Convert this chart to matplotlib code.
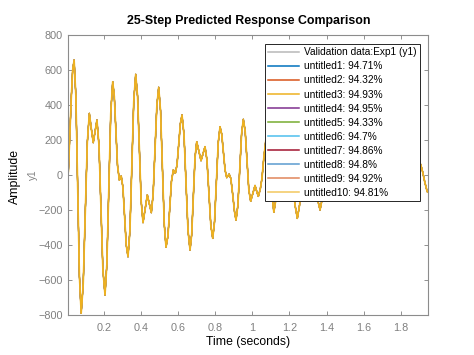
import matplotlib
matplotlib.use('Agg')
from matplotlib import pyplot as plt
import numpy as np

plt.rcParams['font.family'] = ['Liberation Sans', 'DejaVu Sans']

# samples (seconds, amplitude)
time_s = [0.008, 0.016, 0.024, 0.031, 0.039, 0.0485, 0.058, 0.0675, 0.077, 0.088,
          0.099, 0.110, 0.121, 0.131, 0.142, 0.152, 0.162, 0.173, 0.1835, 0.194,
          0.2055, 0.2155, 0.226, 0.2365, 0.247, 0.2555, 0.2645, 0.273, 0.283, 0.293,
          0.302, 0.311, 0.320, 0.3295, 0.340, 0.350, 0.3605, 0.371, 0.381, 0.391,
          0.4005, 0.4105, 0.422, 0.4337, 0.4445, 0.4553, 0.465, 0.475, 0.485, 0.495,
          0.505, 0.515, 0.525, 0.5345, 0.545, 0.5545, 0.564, 0.574, 0.585, 0.594,
          0.603, 0.612, 0.6208, 0.6315, 0.6425, 0.653, 0.664, 0.673, 0.682, 0.691,
          0.700, 0.7115, 0.7233, 0.734, 0.7449, 0.7553, 0.7657, 0.776, 0.7864, 0.796,
          0.806, 0.816, 0.8258, 0.835, 0.844, 0.853, 0.862, 0.875, 0.884, 0.894,
          0.904, 0.912, 0.922, 0.932, 0.942, 0.9515, 0.9615, 0.9715, 0.981, 0.991,
          1.003, 1.0146, 1.024, 1.0324, 1.043, 1.052, 1.062, 1.075, 1.086, 1.097,
          1.107, 1.116, 1.127, 1.142, 1.160, 1.180, 1.198, 1.214, 1.230, 1.2427,
          1.255, 1.270, 1.287, 1.305, 1.322, 1.338, 1.352, 1.3652, 1.378, 1.395,
          1.412, 1.43, 1.45, 1.47, 1.49, 1.51, 1.53, 1.55, 1.57, 1.59,
          1.61, 1.63, 1.65, 1.67, 1.69, 1.71, 1.73, 1.75, 1.77, 1.79,
          1.81, 1.83, 1.85, 1.865, 1.88, 1.895, 1.909, 1.918, 1.93, 1.943,
          1.95]
amplitude = [20, 230, 450, 600, 657, 446, -66, -579, -790, -623,
             -219, 185, 352, 270, 185, 250, 314, 168, -186, -540,
             -686, -508, -76, 355, 533, 451, 252, 53, -29, -6,
             -70, -236, -400, -467, -315, 54, 423, 575, 451, 150,
             -148, -272, -193, -114, -165, -215, -110, 143, 396, 501,
             368, 44, -280, -413, -348, -192, -35, 29, 10, 60,
             176, 294, 343, 230, -43, -316, -429, -339, -120, 100,
             190, 136, 82, 122, 162, 85, -100, -286, -362, -269,
             -43, 183, 276, 233, 130, 28, -15, 5, -20, -110,
             -210, -258, -174, 30, 234, 318, 250, 83, -84, -150,
             -105, -60, -95, -122, -80, -19, 100, 220, 220, 60,
             -120, -213, -140, 60, 270, 350, 240, 20, -170, -248,
             -170, 30, 230, 290, 190, -10, -140, -200, -130, 40,
             200, 250, 130, -40, -90, 0, 150, 200, 90, -60,
             -100, -10, 110, 150, 60, -50, -80, 0, 100, 130,
             60, -30, -60, -20, 60, 90, 57, 20, -40, -95,
             -100]

model_names = ['untitled1', 'untitled2', 'untitled3', 'untitled4', 'untitled5',
               'untitled6', 'untitled7', 'untitled8', 'untitled9', 'untitled10']
fit_pct = ['94.71', '94.32', '94.93', '94.95', '94.33',
           '94.7', '94.86', '94.8', '94.92', '94.81']

model_colors = ['#0072BD', '#D95319', '#EDB120', '#7E2F8E', '#77AC30',
                '#4DBEEE', '#A2142F', '#5b9bcf', '#e0855a', '#f2c75e']

gray = '#808080'

fig = plt.figure(figsize=(4.74, 3.55), dpi=100)
ax = fig.add_axes([68.3 / 474, 1 - 315 / 355, 360 / 474, 280 / 355])

ax.plot(time_s, amplitude, color='#b8b8b8', lw=0.8, label='Validation data:Exp1 (y1)')
for name, fit, c in zip(model_names, fit_pct, model_colors):
    ax.plot(time_s, amplitude, color=c, lw=0.8, label=f'{name}: {fit}%')
# yellow trace on top, like the original where the last fit hides the others
ax.plot(time_s, amplitude, color='#EDB120', lw=1.2)

ax.set_xlim(0.0075, 1.949)
ax.set_ylim(-800, 800)
ax.set_xticks(np.arange(0.2, 1.81, 0.2))
ax.set_xticklabels(['0.2', '0.4', '0.6', '0.8', '1', '1.2', '1.4', '1.6', '1.8'])
ax.set_yticks(np.arange(-800, 801, 200))

ax.tick_params(direction='in', length=3, width=0.6, top=True, right=True,
               color=gray, labelcolor=gray, labelsize=7.8)
ax.tick_params(axis='x', pad=6)
ax.tick_params(axis='y', pad=4)
for sp in ax.spines.values():
    sp.set_color('#8c8c8c')
    sp.set_linewidth(0.8)

ax.set_title('25-Step Predicted Response Comparison', fontsize=8.9,
             fontweight='bold', pad=8)
ax.set_xlabel('Time (seconds)', fontsize=8.8, labelpad=2)
fig.text(15 / 474, 1 - 177 / 355, 'Amplitude', rotation=90, fontsize=8.8,
         ha='center', va='center')
fig.text(33 / 474, 1 - 175 / 355, 'y1', rotation=90, fontsize=7.2, color=gray,
         ha='center', va='center')

leg = ax.legend(loc='upper right', bbox_to_anchor=(0.9756, 0.9668), borderaxespad=0,
                fontsize=7.3, fancybox=False, framealpha=1, edgecolor='#262626',
                labelspacing=0.4, handlelength=3.1, handletextpad=0.45,
                borderpad=0.3)
leg.get_frame().set_linewidth(0.7)
for h in leg.get_lines():
    h.set_linewidth(1.1)

fig.savefig('out.png', dpi=100)
